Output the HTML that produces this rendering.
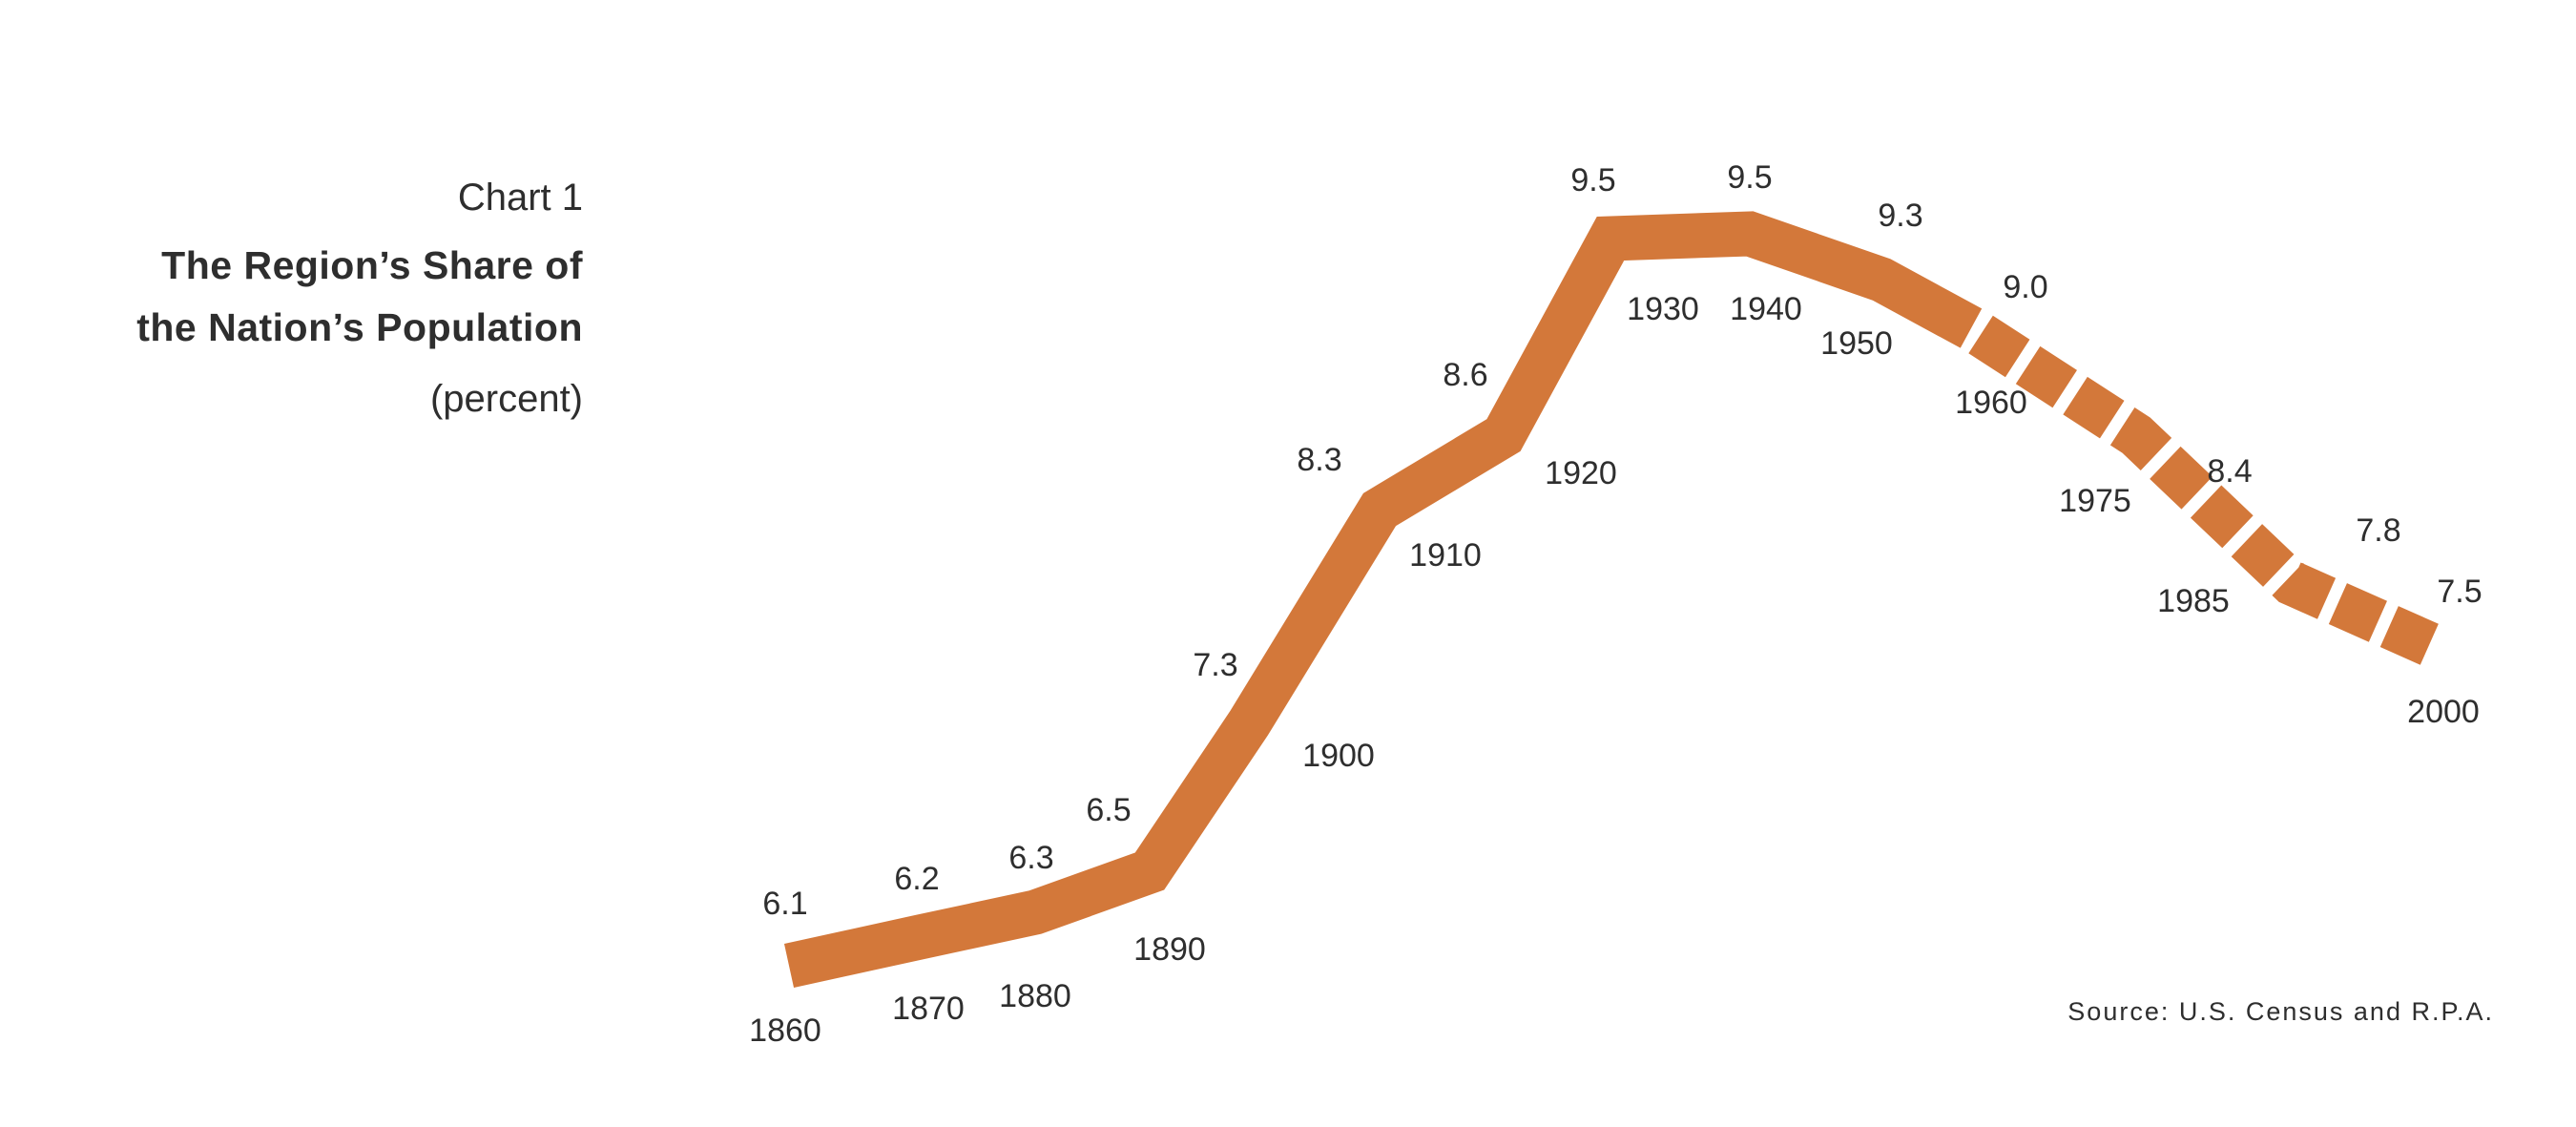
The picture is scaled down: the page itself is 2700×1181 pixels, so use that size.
<!DOCTYPE html>
<html><head><meta charset="utf-8"><style>
html,body{margin:0;padding:0;background:#fff}
svg{display:block}
text{font-family:"Liberation Sans",sans-serif;fill:#2e2e2e}
</style></head><body>
<svg width="2700" height="1181" viewBox="0 0 2700 1181" xmlns="http://www.w3.org/2000/svg">
<rect width="2700" height="1181" fill="#fff"/>
<g text-anchor="end">
<text x="611" y="220" font-size="40" fill="#444">Chart 1</text>
<text x="611" y="292" font-size="41" font-weight="bold" letter-spacing="0.5">The Region’s Share of</text>
<text x="611" y="357" font-size="41" font-weight="bold" letter-spacing="0.5">the Nation’s Population</text>
<text x="611" y="431" font-size="40" fill="#444">(percent)</text>
</g>
<g fill="none" stroke="#d3783a" stroke-width="47" stroke-linejoin="miter" stroke-miterlimit="3">
<polyline points="827,1012 964,982 1085,956 1205,913 1309,758 1446,534 1576,456 1688,250 1834,245 1972,293 2066,344"/>
<polyline stroke-dasharray="46 13" stroke-dashoffset="-12" points="2066,344 2239,456 2402,611 2557,680"/>
</g>
<g font-size="34" text-anchor="middle" dominant-baseline="central">
<text x="823" y="947">6.1</text><text x="961" y="921">6.2</text><text x="1081" y="899">6.3</text>
<text x="1162" y="849">6.5</text><text x="1274" y="697">7.3</text><text x="1383" y="482">8.3</text>
<text x="1536" y="393">8.6</text><text x="1670" y="189">9.5</text><text x="1834" y="186">9.5</text>
<text x="1992" y="226">9.3</text><text x="2123" y="301">9.0</text><text x="2337" y="494">8.4</text>
<text x="2493" y="556">7.8</text><text x="2578" y="620">7.5</text>
<text x="823" y="1080">1860</text><text x="973" y="1057">1870</text><text x="1085" y="1044">1880</text>
<text x="1226" y="995">1890</text><text x="1403" y="792">1900</text><text x="1515" y="582">1910</text>
<text x="1657" y="496">1920</text><text x="1743" y="324">1930</text><text x="1851" y="324">1940</text>
<text x="1946" y="360">1950</text><text x="2087" y="422">1960</text><text x="2196" y="525">1975</text>
<text x="2299" y="630">1985</text><text x="2561" y="746">2000</text>
</g>
<text x="2614" y="1069" font-size="27" text-anchor="end" letter-spacing="2">Source: U.S. Census and R.P.A.</text>
</svg>
</body></html>
